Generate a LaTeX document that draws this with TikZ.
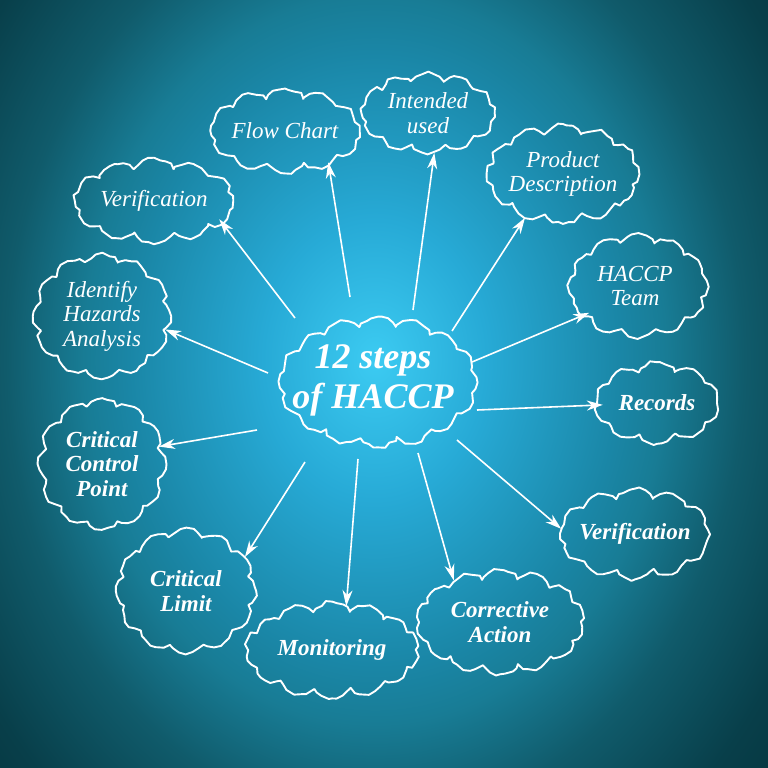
\documentclass[tikz,border=0pt]{standalone}
\usepackage{fontspec}
\setmainfont{Liberation Serif}
\usetikzlibrary{shapes.symbols,decorations.pathmorphing,arrows.meta}
\definecolor{bgA}{HTML}{3CCBF2}
\definecolor{bgB}{HTML}{27AAD6}
\definecolor{bgC}{HTML}{1A86A6}
\definecolor{bgD}{HTML}{187C95}
\definecolor{bgE}{HTML}{105B6B}
\definecolor{bgF}{HTML}{083F4A}
\definecolor{bgG}{HTML}{05333C}
\pgfdeclareradialshading{bgshade}{\pgfpoint{0bp}{0bp}}{color(0bp)=(bgA); color(5bp)=(bgB); color(11bp)=(bgC); color(13bp)=(bgD); color(16.5bp)=(bgE); color(21bp)=(bgF); color(25bp)=(bgG); color(50bp)=(bgG)}
\pgfmathsetseed{7}
\tikzset{
  cl/.style={cloud, draw=white, line width=1.9pt, cloud puffs=#1, cloud puff arc=118,
    cloud ignores aspect, inner sep=0pt, line join=round,
    decorate, decoration={random steps, segment length=6pt, amplitude=1.5pt}},
  cl/.default=12,
  lab/.style={text=white, align=center, inner sep=0pt, font=\fontsize{23}{24.5}\selectfont\itshape},
  labb/.style={lab, font=\fontsize{23}{24.5}\selectfont\bfseries\itshape},
  arr/.style={white, line width=1.6pt, -{Stealth[length=16pt, width=10pt, inset=5pt]}}
}
\begin{document}
\begin{tikzpicture}[x=1pt, y=-1pt]
\useasboundingbox (0,0) rectangle (768,768);
\begin{scope}
\clip (0,0) rectangle (768,768);
\fill[shading=bgshade] (375,360) ellipse [x radius=560, y radius=700];
\end{scope}

% centre
\node[cl=16, minimum width=196pt, minimum height=130pt,
  label={[text=white, align=center, inner sep=0pt, xshift=-5pt, yshift=2pt,
  font=\fontsize{36}{40}\selectfont\bfseries\itshape]center:12 steps\\of HACCP}] (c) at (378,382) {};

% outer clouds
\node[cl=12, minimum width=148pt, minimum height=84pt, label={[lab]center:Flow Chart}] (fc) at (285,131) {};
\node[cl=12, minimum width=132pt, minimum height=80pt, label={[lab]center:Intended\\used}] (iu) at (428,113) {};
\node[cl=12, minimum width=150pt, minimum height=99pt, label={[lab]center:Product\\Description}] (pd) at (563,174) {};
\node[cl=12, minimum width=138pt, minimum height=103pt, label={[lab, xshift=-3pt]center:HACCP\\Team}] (ht) at (638,286) {};
\node[cl=10, minimum width=122pt, minimum height=81pt, label={[labb]center:Records}] (re) at (657,403) {};
\node[cl=12, minimum width=148pt, minimum height=90pt, label={[labb]center:Verification}] (vr) at (635,534) {};
\node[cl=14, minimum width=166pt, minimum height=104pt, label={[labb]center:Corrective\\Action}] (ca) at (500,622) {};
\node[cl=14, minimum width=171pt, minimum height=96pt, label={[labb]center:Monitoring}] (mo) at (332,650) {};
\node[cl=12, minimum width=139pt, minimum height=124pt, label={[labb]center:Critical\\Limit}] (cli) at (186,591) {};
\node[cl=12, minimum width=127pt, minimum height=130pt, label={[labb]center:Critical\\Control\\Point}] (ccp) at (102,464) {};
\node[cl=12, minimum width=137pt, minimum height=124pt, label={[lab]center:Identify\\Hazards\\Analysis}] (iha) at (102,316) {};
\node[cl=12, minimum width=157pt, minimum height=85pt, label={[lab]center:Verification}] (vl) at (154,201) {};

% arrow tails
\coordinate (t1) at (350,297);
\coordinate (t2) at (413,310);
\coordinate (t3) at (452,331);
\coordinate (t4) at (472,362);
\coordinate (t5) at (477,410);
\coordinate (t6) at (457,440);
\coordinate (t7) at (418,453);
\coordinate (t8) at (358,459);
\coordinate (t9) at (305,462);
\coordinate (t10) at (257,430);
\coordinate (t11) at (268,373);
\coordinate (t12) at (295,318);

\draw[arr, shorten >=-3pt] (t1) -- (fc.-38);
\draw[arr] (t2) -- (iu.-81);
\draw[arr] (t3) -- (pd.-131);
\draw[arr, shorten >=-8pt] (t4) -- (ht.-152);
\draw[arr, shorten >=-6pt] (t5) -- (re.182);
\draw[arr] (t6) -- (vr.176);
\draw[arr] (t7) -- (ca.138);
\draw[arr] (t8) -- (mo.72);
\draw[arr] (t9) -- (cli.30);
\draw[arr] (t10) -- (ccp.17);
\draw[arr] (t11) -- (iha.-12);
\draw[arr, shorten >=-5pt] (t12) -- (vl.-18);
\end{tikzpicture}
\end{document}
